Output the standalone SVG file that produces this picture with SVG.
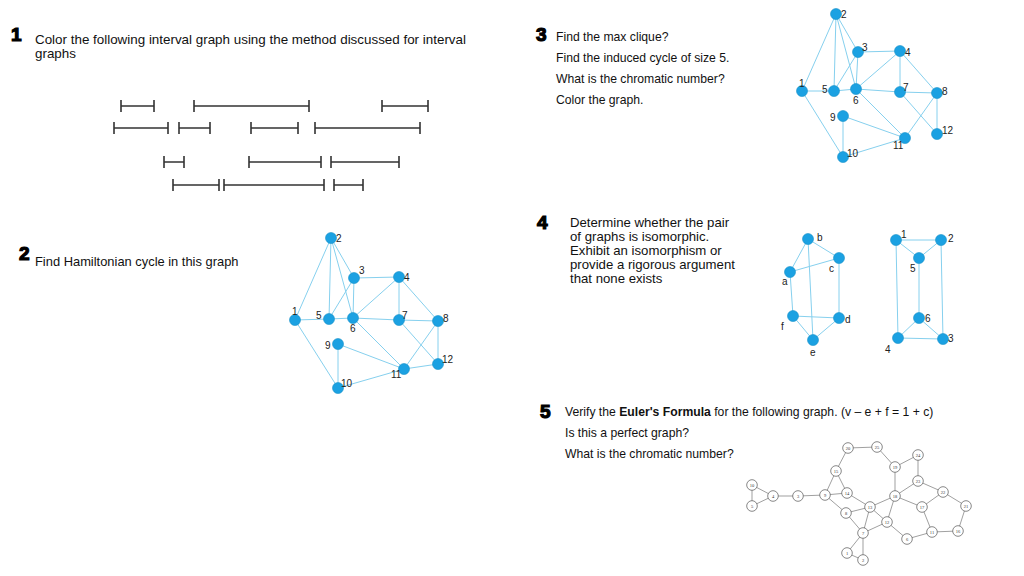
<svg xmlns="http://www.w3.org/2000/svg" width="1024" height="576" viewBox="0 0 1024 576">
<style>
.t{font-family:"Liberation Sans",Arial,sans-serif;fill:#111}
.num{font-family:"Liberation Sans",Arial,sans-serif;font-weight:900;font-size:19px;fill:#000;stroke:#000;stroke-width:1.2}
.iv{stroke:#333;stroke-width:1.6;fill:none}
.be{stroke:#86d0ee;stroke-width:1;fill:none}
.bn{fill:#1ba1e2;stroke:#1590c8;stroke-width:0.6}
.bl{font-family:"Liberation Sans",Arial,sans-serif;font-size:10px;fill:#222}
.ge{stroke:#777;stroke-width:0.7;fill:none}
.gn{fill:#fff;stroke:#555;stroke-width:0.7}
.gl{font-family:"Liberation Serif","Times New Roman",serif;font-size:4.5px;fill:#333;text-anchor:middle}
</style>
<rect width="1024" height="576" fill="#fff"/>

<!-- Section 1 -->
<g id="sec1-text">
<text class="num" x="11" y="41">1</text>
<text class="t" x="35" y="44" font-size="13.4">Color the following interval graph using the method discussed for interval</text>
<text class="t" x="35" y="58" font-size="13.4">graphs</text>
</g>
<g id="intervals">
<path class="iv" d="M121 106H154M121 100V112M154 100V112"/>
<path class="iv" d="M194 106H309M194 100V112M309 100V112"/>
<path class="iv" d="M382 106H428M382 100V112M428 100V112"/>
<path class="iv" d="M114 128H168M114 122V134M168 122V134"/>
<path class="iv" d="M179 128H210M179 122V134M210 122V134"/>
<path class="iv" d="M251 128H298M251 122V134M298 122V134"/>
<path class="iv" d="M315 128H420M315 122V134M420 122V134"/>
<path class="iv" d="M164 162H184M164 156V168M184 156V168"/>
<path class="iv" d="M249 162H321M249 156V168M321 156V168"/>
<path class="iv" d="M331 162H399M331 156V168M399 156V168"/>
<path class="iv" d="M173 185H219M173 179V191M219 179V191"/>
<path class="iv" d="M224 185H324M224 179V191M324 179V191"/>
<path class="iv" d="M334 185H363M334 179V191M363 179V191"/>
</g>

<!-- Section 2 -->
<g id="sec2-text">
<text class="num" x="19" y="260">2</text>
<text class="t" x="35" y="266" font-size="12.9">Find Hamiltonian cycle in this graph</text>
</g>
<g id="g2-edges">
<path class="be" d="M295 320L331 238M295 320L329 319M295 320L338 388M331 238L329 319M331 238L353 318M331 238L354 278M354 278L399 277M354 278L329 319M354 278L353 318M399 277L353 318M399 277L399 320M399 277L438 321M329 319L353 318M353 318L399 320M353 318L404 369M399 320L438 321M399 320L438 364M438 321L404 369M438 321L438 364M338 344L338 388M338 344L404 369M338 388L404 369M404 369L438 364"/>
</g>
<g id="g2-nodes">
<circle class="bn" cx="295" cy="320" r="5.5"/><circle class="bn" cx="331" cy="238" r="5.5"/><circle class="bn" cx="354" cy="278" r="5.5"/><circle class="bn" cx="399" cy="277" r="5.5"/><circle class="bn" cx="329" cy="319" r="5.5"/><circle class="bn" cx="353" cy="318" r="5.5"/><circle class="bn" cx="399" cy="320" r="5.5"/><circle class="bn" cx="438" cy="321" r="5.5"/><circle class="bn" cx="338" cy="344" r="5.5"/><circle class="bn" cx="338" cy="388" r="5.5"/><circle class="bn" cx="404" cy="369" r="5.5"/><circle class="bn" cx="438" cy="364" r="5.5"/>
<text class="bl" x="336" y="242">2</text><text class="bl" x="359" y="274">3</text><text class="bl" x="404" y="281">4</text><text class="bl" x="292" y="315">1</text><text class="bl" x="316" y="319">5</text><text class="bl" x="350" y="332">6</text><text class="bl" x="402" y="319">7</text><text class="bl" x="443" y="322">8</text><text class="bl" x="325" y="349">9</text><text class="bl" x="391" y="378">11</text><text class="bl" x="442" y="363">12</text><text class="bl" x="341" y="387">10</text>
</g>

<!-- Section 3 -->
<g id="sec3-text">
<text class="num" x="536" y="41">3</text>
<text class="t" x="556" y="41" font-size="12.2">Find the max clique?</text>
<text class="t" x="556" y="62" font-size="12.2">Find the induced cycle of size 5.</text>
<text class="t" x="556" y="83" font-size="12.2">What is the chromatic number?</text>
<text class="t" x="556" y="104" font-size="12.2">Color the graph.</text>
</g>
<g id="g3-edges">
<path class="be" d="M802 91L836 14M802 91L834 91M802 91L843 157M836 14L834 91M836 14L856 89M836 14L858 52M858 52L900 51M858 52L834 91M858 52L856 89M900 51L856 89M900 51L900 92M900 51L937 93M834 91L856 89M856 89L900 92M856 89L905 138M900 92L937 93M900 92L937 134M937 93L905 138M937 93L937 134M843 116L843 157M843 116L905 138M843 157L905 138"/>
</g>
<g id="g3-nodes">
<circle class="bn" cx="802" cy="91" r="5.5"/><circle class="bn" cx="836" cy="14" r="5.5"/><circle class="bn" cx="858" cy="52" r="5.5"/><circle class="bn" cx="900" cy="51" r="5.5"/><circle class="bn" cx="834" cy="91" r="5.5"/><circle class="bn" cx="856" cy="89" r="5.5"/><circle class="bn" cx="900" cy="92" r="5.5"/><circle class="bn" cx="937" cy="93" r="5.5"/><circle class="bn" cx="843" cy="116" r="5.5"/><circle class="bn" cx="843" cy="157" r="5.5"/><circle class="bn" cx="905" cy="138" r="5.5"/><circle class="bn" cx="937" cy="134" r="5.5"/>
<text class="bl" x="841" y="18">2</text><text class="bl" x="862" y="51">3</text><text class="bl" x="905" y="56">4</text><text class="bl" x="799" y="87">1</text><text class="bl" x="822" y="93">5</text><text class="bl" x="853" y="104">6</text><text class="bl" x="903" y="91">7</text><text class="bl" x="942" y="95">8</text><text class="bl" x="830" y="121">9</text><text class="bl" x="893" y="149">11</text><text class="bl" x="942" y="134">12</text><text class="bl" x="847" y="157">10</text>
</g>

<!-- Section 4 -->
<g id="sec4-text">
<text class="num" x="537" y="229">4</text>
<text class="t" x="570" y="227" font-size="13.2">Determine whether the pair</text>
<text class="t" x="570" y="241" font-size="13.2">of graphs is isomorphic.</text>
<text class="t" x="570" y="255" font-size="13.2">Exhibit an isomorphism or</text>
<text class="t" x="570" y="269" font-size="13.2">provide a rigorous argument</text>
<text class="t" x="570" y="283" font-size="13.2">that none exists</text>
</g>
<g id="g4-edges">
<path class="be" d="M790 272L808 239M808 239L839 258M790 272L839 258M808 239L813 340M790 272L793 316M839 258L839 318M793 316L839 318M793 316L813 340M813 340L839 318"/>
<path class="be" d="M896 240L941 240M896 240L919 258M941 240L919 258M896 240L898 338M941 240L943 339M919 258L919 318M919 318L898 338M919 318L943 339M898 338L943 339"/>
</g>
<g id="g4-nodes">
<circle class="bn" cx="808" cy="239" r="5.5"/><circle class="bn" cx="839" cy="258" r="5.5"/><circle class="bn" cx="790" cy="272" r="5.5"/><circle class="bn" cx="793" cy="316" r="5.5"/><circle class="bn" cx="839" cy="318" r="5.5"/><circle class="bn" cx="813" cy="340" r="5.5"/>
<circle class="bn" cx="896" cy="240" r="5.5"/><circle class="bn" cx="941" cy="240" r="5.5"/><circle class="bn" cx="919" cy="258" r="5.5"/><circle class="bn" cx="919" cy="318" r="5.5"/><circle class="bn" cx="898" cy="338" r="5.5"/><circle class="bn" cx="943" cy="339" r="5.5"/>
<text class="bl" x="817" y="241">b</text><text class="bl" x="829" y="272">c</text><text class="bl" x="782" y="285">a</text><text class="bl" x="781" y="330">f</text><text class="bl" x="845" y="323">d</text><text class="bl" x="810" y="356">e</text>
<text class="bl" x="901" y="238">1</text><text class="bl" x="948" y="242">2</text><text class="bl" x="910" y="272">5</text><text class="bl" x="925" y="322">6</text><text class="bl" x="885" y="353">4</text><text class="bl" x="948" y="342">3</text>
</g>

<!-- Section 5 -->
<g id="sec5-text">
<text class="num" x="540" y="418">5</text>
<text class="t" x="565" y="416" font-size="12.2">Verify the <tspan font-weight="bold">Euler's Formula</tspan> for the following graph. (v – e + f = 1 + c)</text>
<text class="t" x="565" y="437" font-size="12.2">Is this a perfect graph?</text>
<text class="t" x="565" y="458" font-size="12.2">What is the chromatic number?</text>
</g>
<g id="g5-edges">
<path class="ge" d="M752 485L752 506M752 485L773 496M752 506L773 496M773 496L798 496M798 496L825 495M825 495L836 471M825 495L847 493M825 495L846 513M836 471L847 493M836 471L848 448M848 448L877 447M877 447L895 467M895 467L918 455M895 467L895 496M918 455L918 481M918 481L895 496M918 481L943 492M943 492L966 506M943 492L922 507M966 506L958 531M958 531L932 532M932 532L922 507M932 532L907 539M895 496L922 507M895 496L870 507M895 496L887 522M847 493L870 507M846 513L870 507M846 513L863 533M870 507L863 533M870 507L887 522M887 522L863 533M887 522L907 539M863 533L847 553M863 533L863 560M847 553L863 560"/>
</g>
<g id="g5-nodes">
<circle class="gn" cx="752" cy="485" r="5.3"/><text class="gl" x="752" y="486.6">10</text>
<circle class="gn" cx="752" cy="506" r="5.3"/><text class="gl" x="752" y="507.6">5</text>
<circle class="gn" cx="773" cy="496" r="5.3"/><text class="gl" x="773" y="497.6">4</text>
<circle class="gn" cx="798" cy="496" r="5.3"/><text class="gl" x="798" y="497.6">3</text>
<circle class="gn" cx="825" cy="495" r="5.3"/><text class="gl" x="825" y="496.6">9</text>
<circle class="gn" cx="836" cy="471" r="5.3"/><text class="gl" x="836" y="472.6">15</text>
<circle class="gn" cx="848" cy="448" r="5.3"/><text class="gl" x="848" y="449.6">20</text>
<circle class="gn" cx="847" cy="493" r="5.3"/><text class="gl" x="847" y="494.6">14</text>
<circle class="gn" cx="846" cy="513" r="5.3"/><text class="gl" x="846" y="514.6">8</text>
<circle class="gn" cx="847" cy="553" r="5.3"/><text class="gl" x="847" y="554.6">1</text>
<circle class="gn" cx="863" cy="560" r="5.3"/><text class="gl" x="863" y="561.6">2</text>
<circle class="gn" cx="863" cy="533" r="5.3"/><text class="gl" x="863" y="534.6">7</text>
<circle class="gn" cx="870" cy="507" r="5.3"/><text class="gl" x="870" y="508.6">13</text>
<circle class="gn" cx="887" cy="522" r="5.3"/><text class="gl" x="887" y="523.6">12</text>
<circle class="gn" cx="907" cy="539" r="5.3"/><text class="gl" x="907" y="540.6">6</text>
<circle class="gn" cx="877" cy="447" r="5.3"/><text class="gl" x="877" y="448.6">25</text>
<circle class="gn" cx="895" cy="467" r="5.3"/><text class="gl" x="895" y="468.6">19</text>
<circle class="gn" cx="918" cy="455" r="5.3"/><text class="gl" x="918" y="456.6">24</text>
<circle class="gn" cx="918" cy="481" r="5.3"/><text class="gl" x="918" y="482.6">23</text>
<circle class="gn" cx="895" cy="496" r="5.3"/><text class="gl" x="895" y="497.6">18</text>
<circle class="gn" cx="943" cy="492" r="5.3"/><text class="gl" x="943" y="493.6">22</text>
<circle class="gn" cx="966" cy="506" r="5.3"/><text class="gl" x="966" y="507.6">21</text>
<circle class="gn" cx="922" cy="507" r="5.3"/><text class="gl" x="922" y="508.6">17</text>
<circle class="gn" cx="958" cy="531" r="5.3"/><text class="gl" x="958" y="532.6">16</text>
<circle class="gn" cx="932" cy="532" r="5.3"/><text class="gl" x="932" y="533.6">11</text>
</g>
</svg>
